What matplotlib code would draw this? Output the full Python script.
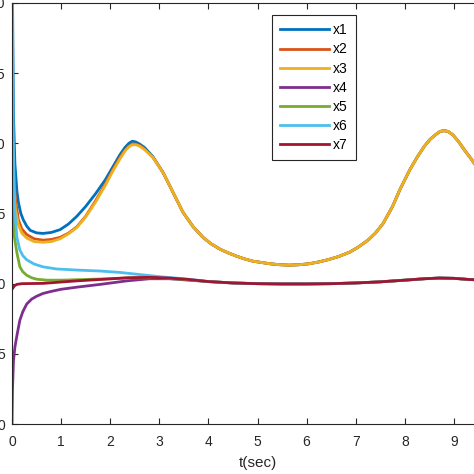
import matplotlib
matplotlib.use("Agg")
import matplotlib.pyplot as plt

plt.rcParams['font.family'] = ['Liberation Sans', 'DejaVu Sans']

# values
t1 = [0, 0.03, 0.06, 0.1, 0.13, 0.18, 0.23, 0.3, 0.37, 0.5, 0.63, 0.8, 0.98, 1.15, 1.32, 1.5, 1.7, 1.9, 2.05, 2.2, 2.3, 2.38, 2.45, 2.52, 2.6, 2.7, 2.87,
      3.08, 3.28, 3.48, 3.69, 3.89, 4.05, 4.24, 4.4, 4.58, 4.75, 4.91, 5.1, 5.25, 5.45, 5.65, 5.85, 6.05, 6.25, 6.45, 6.65, 6.88, 7.05, 7.25, 7.4, 7.56,
      7.75, 7.9, 8.1, 8.25, 8.4, 8.52, 8.62, 8.72, 8.8, 8.88, 8.98, 9.1, 9.22, 9.35, 9.45, 9.6, 10.0]
x1 = [35, 22, 18.5, 16.6, 15.8, 15.0, 14.55, 14.1, 13.8, 13.62, 13.58, 13.65, 13.85, 14.25, 14.8, 15.5, 16.4, 17.4, 18.3, 19.2, 19.7, 20.0, 20.15, 20.1, 19.95, 19.7, 19.05,
      17.9, 16.5, 15.1, 14.05, 13.3, 12.85, 12.45, 12.2, 11.95, 11.75, 11.6, 11.5, 11.42, 11.35, 11.32, 11.35, 11.42, 11.55, 11.72, 11.93, 12.25, 12.6, 13.1, 13.6, 14.3,
      15.5, 16.7, 18.1, 19.0, 19.8, 20.3, 20.6, 20.85, 20.9, 20.85, 20.6, 20.1, 19.5, 18.9, 18.4, 17.7, 15.5]

t2 = [0, 0.03, 0.07, 0.13, 0.2, 0.3, 0.45, 0.63, 0.8, 0.98, 1.15, 1.32, 1.5, 1.7, 1.9, 2.05, 2.2, 2.3, 2.38, 2.45, 2.52, 2.6, 2.7, 2.87,
      3.08, 3.28, 3.48, 3.69, 3.89, 4.05, 4.24, 4.4, 4.58, 4.75, 4.91, 5.1, 5.25, 5.45, 5.65, 5.85, 6.05, 6.25, 6.45, 6.65, 6.88, 7.05, 7.25, 7.4, 7.56,
      7.75, 7.9, 8.1, 8.25, 8.4, 8.52, 8.62, 8.72, 8.8, 8.88, 8.98, 9.1, 9.22, 9.35, 9.45, 9.6, 10.0]
x2 = [22, 18, 16, 14.55, 13.9, 13.5, 13.2, 13.1, 13.15, 13.3, 13.6, 14.05, 14.8, 15.9, 17.1, 18.1, 19.0, 19.5, 19.8, 19.95, 19.95, 19.85, 19.6, 19.0,
      17.9, 16.5, 15.1, 14.05, 13.3, 12.85, 12.45, 12.2, 11.95, 11.75, 11.6, 11.5, 11.42, 11.35, 11.32, 11.35, 11.42, 11.55, 11.72, 11.93, 12.25, 12.6, 13.1, 13.6, 14.3,
      15.5, 16.7, 18.1, 19.0, 19.8, 20.3, 20.6, 20.85, 20.9, 20.85, 20.6, 20.1, 19.5, 18.9, 18.4, 17.7, 15.5]

t3 = [0, 0.03, 0.07, 0.13, 0.2, 0.3, 0.45, 0.63, 0.8, 0.98, 1.15, 1.32, 1.5, 1.7, 1.9, 2.05, 2.2, 2.3, 2.38, 2.45, 2.52, 2.6, 2.7, 2.87,
      3.08, 3.28, 3.48, 3.69, 3.89, 4.05, 4.24, 4.4, 4.58, 4.75, 4.91, 5.1, 5.25, 5.45, 5.65, 5.85, 6.05, 6.25, 6.45, 6.65, 6.88, 7.05, 7.25, 7.4, 7.56,
      7.75, 7.9, 8.1, 8.25, 8.4, 8.52, 8.62, 8.72, 8.8, 8.88, 8.98, 9.1, 9.22, 9.35, 9.45, 9.6, 10.0]
x3 = [21, 17, 15.3, 14.2, 13.6, 13.25, 13.0, 12.95, 13.0, 13.2, 13.55, 14.0, 14.75, 15.8, 17.0, 18.0, 18.9, 19.45, 19.75, 19.9, 19.9, 19.8, 19.55, 19.0,
      17.9, 16.5, 15.1, 14.05, 13.3, 12.85, 12.45, 12.2, 11.95, 11.75, 11.6, 11.5, 11.42, 11.35, 11.32, 11.35, 11.42, 11.55, 11.72, 11.93, 12.25, 12.6, 13.1, 13.6, 14.3,
      15.5, 16.7, 18.1, 19.0, 19.8, 20.3, 20.6, 20.85, 20.9, 20.85, 20.6, 20.1, 19.5, 18.9, 18.4, 17.7, 15.5]

t4 = [0, 0.01, 0.03, 0.06, 0.1, 0.16, 0.22, 0.3, 0.4, 0.5, 0.63, 0.8, 1.0, 1.32, 1.8, 2.34, 2.8, 3.2, 3.6, 4.0, 4.5,
      5.0, 5.5, 6.0, 6.5, 7.0, 7.5, 8.0, 8.4, 8.7, 9.0, 9.3, 9.6, 10.0]
x4 = [0, 2.5, 4.5, 5.5, 6.3, 7.4, 8.0, 8.55, 8.9, 9.1, 9.3, 9.45, 9.6, 9.75, 9.95, 10.2, 10.35, 10.35, 10.25, 10.15, 10.05,
      10.0, 9.98, 9.98, 10.0, 10.05, 10.13, 10.25, 10.35, 10.4, 10.38, 10.3, 10.25, 10.2]

t5 = [0, 0.02, 0.05, 0.1, 0.16, 0.22, 0.3, 0.4, 0.5, 0.7, 1.0, 1.5, 2.0, 2.5, 3.0, 3.5, 4.0, 4.5,
      5.0, 5.5, 6.0, 6.5, 7.0, 7.5, 8.0, 8.4, 8.7, 9.0, 9.3, 9.6, 10.0]
x5 = [18, 15, 13.3, 12.2, 11.2, 10.85, 10.6, 10.42, 10.32, 10.25, 10.25, 10.3, 10.35, 10.42, 10.42, 10.3, 10.15, 10.05,
      10.0, 9.98, 9.98, 10.0, 10.05, 10.13, 10.25, 10.35, 10.4, 10.38, 10.3, 10.25, 10.2]

t6 = [0, 0.02, 0.05, 0.1, 0.16, 0.22, 0.3, 0.45, 0.63, 0.9, 1.32, 1.8, 2.2, 2.6, 3.0, 3.5, 4.0, 4.5,
      5.0, 5.5, 6.0, 6.5, 7.0, 7.5, 8.0, 8.4, 8.7, 9.0, 9.3, 9.6, 10.0]
x6 = [35, 22, 15.5, 13.3, 12.4, 12.0, 11.7, 11.4, 11.2, 11.05, 10.97, 10.9, 10.8, 10.65, 10.5, 10.35, 10.15, 10.05,
      10.0, 9.98, 9.98, 10.0, 10.05, 10.13, 10.25, 10.35, 10.4, 10.38, 10.3, 10.25, 10.2]

t7 = [0, 0.02, 0.05, 0.1, 0.2, 0.63, 1.32, 1.8, 2.34, 2.8, 3.2, 3.6, 4.0, 4.5,
      5.0, 5.5, 6.0, 6.5, 7.0, 7.5, 8.0, 8.4, 8.7, 9.0, 9.3, 9.6, 10.0]
x7 = [9.6, 9.7, 9.85, 9.95, 10.0, 10.02, 10.2, 10.3, 10.42, 10.45, 10.4, 10.3, 10.15, 10.05,
      10.0, 9.98, 9.98, 10.0, 10.05, 10.13, 10.25, 10.35, 10.4, 10.38, 10.3, 10.25, 10.2]

series = [(t1, x1, 'x1', '#0072BD'), (t2, x2, 'x2', '#D95319'), (t3, x3, 'x3', '#EDB120'),
          (t4, x4, 'x4', '#7E2F8E'), (t5, x5, 'x5', '#77AC30'), (t6, x6, 'x6', '#4DBEEE'),
          (t7, x7, 'x7', '#A2142F')]

fig = plt.figure(figsize=(4.74, 4.74), dpi=100)
ax = fig.add_axes([12/474, 50/474, 491/474, 421/474])

for t, x, name, c in series:
    ax.plot(t, x, color=c, lw=2, label=name, solid_joinstyle='round')

ax.set_xlim(0, 10)
ax.set_ylim(0, 30)
ax.set_xticks(range(0, 11))
ax.set_yticks(range(0, 31, 5))
ax.tick_params(direction='in', length=4, width=0.8, top=True, right=True,
               labelsize=10, colors='#262626', pad=5)
ax.tick_params(axis='x', pad=8)
for s in ax.spines.values():
    s.set_color('#262626')
    s.set_linewidth(0.8)
ax.set_xlabel('t(sec)', fontsize=11, color='#262626', labelpad=5)

leg = ax.legend(loc='upper left', bbox_to_anchor=(0.5295, 0.9715), fontsize=10,
                handlelength=3.5, handletextpad=0.3, labelspacing=0.37,
                borderpad=0.6, fancybox=False, framealpha=1, borderaxespad=0)
leg.get_frame().set_edgecolor('#262626')
leg.get_frame().set_linewidth(0.8)

fig.savefig('out.png', dpi=100)
